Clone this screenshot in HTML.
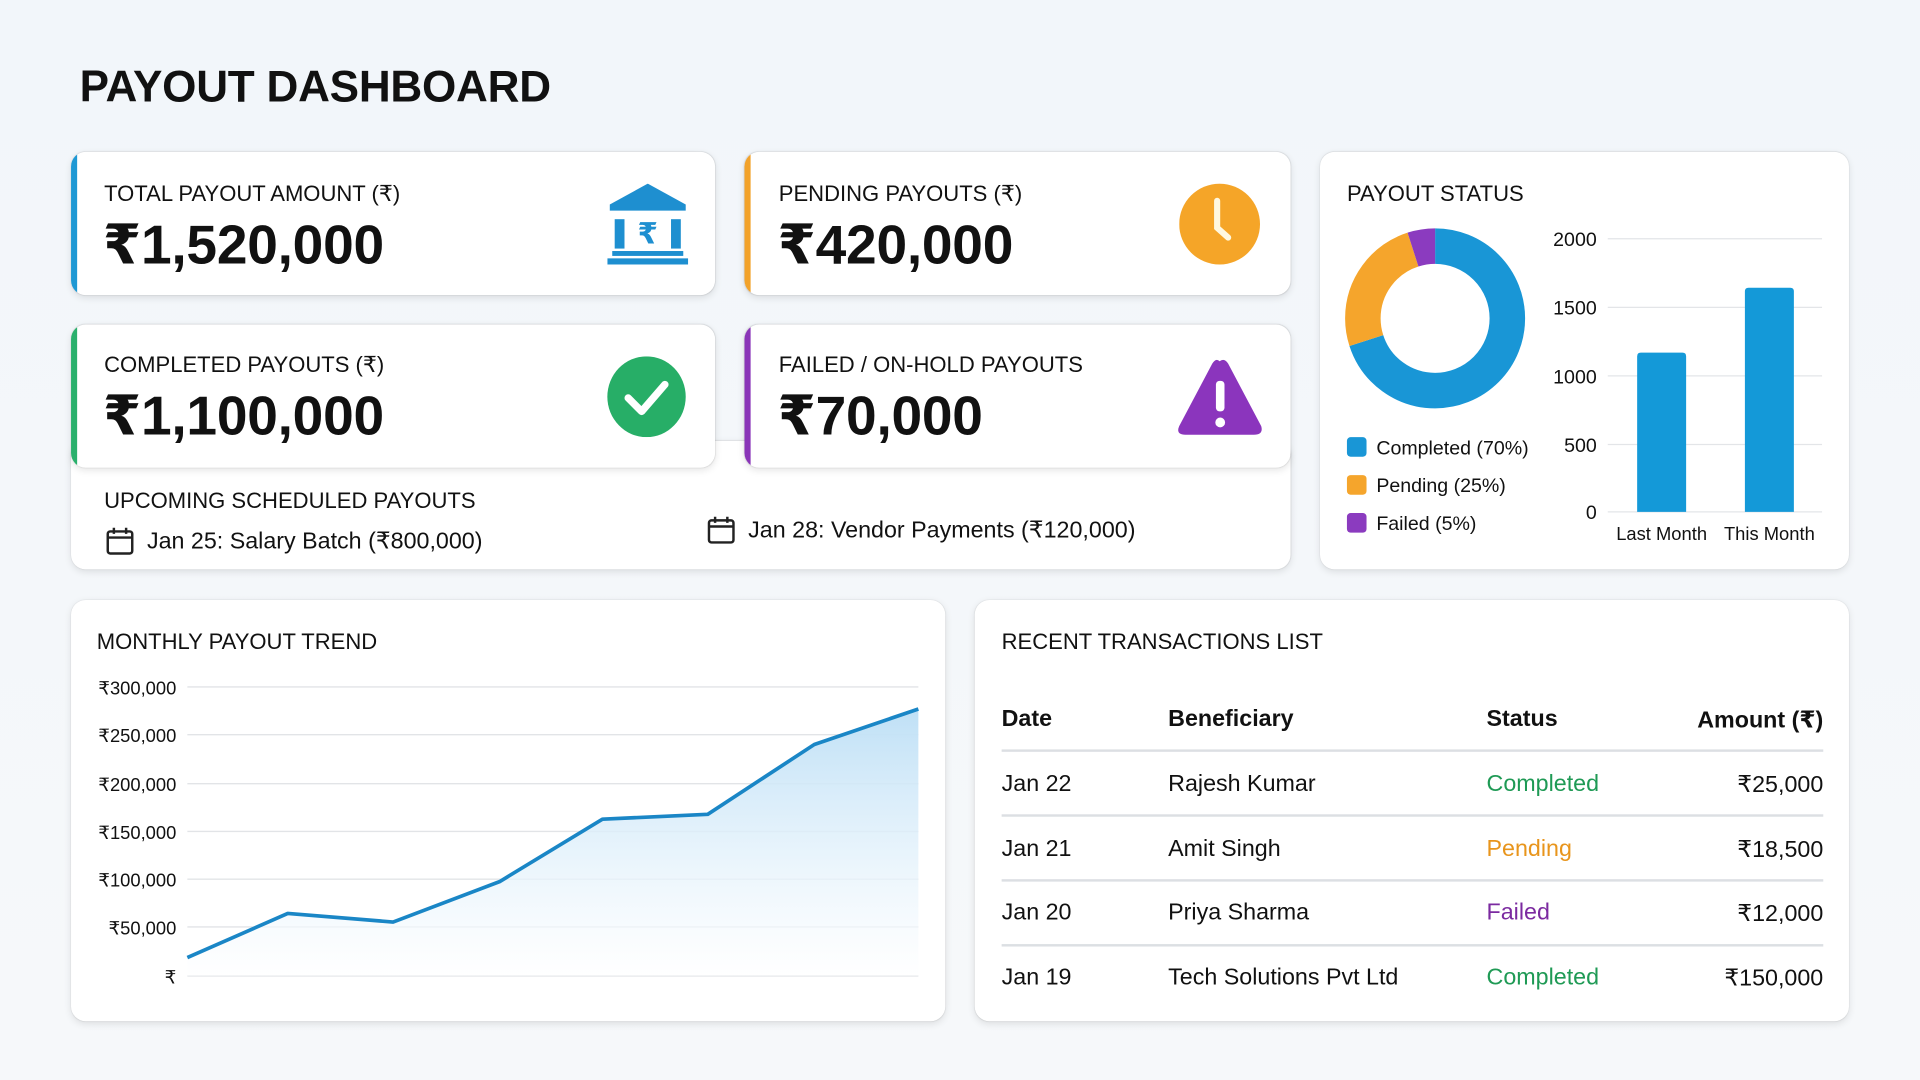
<!DOCTYPE html>
<html><head><meta charset="utf-8"><style>
html,body{margin:0;padding:0;width:1920px;height:1080px;overflow:hidden;background:#f3f6f9;}
#w{position:absolute;left:0;top:0;width:1568px;height:882px;transform:scale(1.22449);transform-origin:0 0;font-family:"Liberation Sans","DejaVu Sans",sans-serif;color:#111;background:linear-gradient(180deg,#f2f6fa,#f6f8fa);}
.card{position:absolute;background:#fff;border-radius:12px;box-shadow:0 2px 6px rgba(0,0,0,.10),0 0 1px rgba(0,0,0,.15);}
.kpi{overflow:hidden}
.kpi .bar{position:absolute;left:0;top:0;bottom:0;width:5px}
.lbl{position:absolute;font-size:18px;white-space:nowrap}
.val{position:absolute;font-size:45px;font-weight:bold;white-space:nowrap;letter-spacing:-0.2px}
.t{position:absolute;white-space:nowrap}
</style></head><body><div id="w">
<div class="t" style="left:65px;top:50px;font-size:36px;font-weight:bold;letter-spacing:-0.2px">PAYOUT DASHBOARD</div>

<div class="card" style="left:58px;top:360px;width:996px;height:105px">
 <div class="t" style="left:27px;top:39px;font-size:18px">UPCOMING SCHEDULED PAYOUTS</div>
 <svg style="position:absolute;left:28px;top:70px" width="24" height="24" viewBox="0 0 24 24"><rect x="2" y="4" width="20" height="18" rx="2" fill="none" stroke="#222" stroke-width="2"/><line x1="2" y1="9" x2="22" y2="9" stroke="#222" stroke-width="2"/><line x1="7" y1="1" x2="7" y2="6" stroke="#222" stroke-width="2"/><line x1="17" y1="1" x2="17" y2="6" stroke="#222" stroke-width="2"/></svg>
 <div class="t" style="left:62px;top:71px;font-size:19px">Jan 25: Salary Batch (₹800,000)</div>
 <svg style="position:absolute;left:519px;top:61px" width="24" height="24" viewBox="0 0 24 24"><rect x="2" y="4" width="20" height="18" rx="2" fill="none" stroke="#222" stroke-width="2"/><line x1="2" y1="9" x2="22" y2="9" stroke="#222" stroke-width="2"/><line x1="7" y1="1" x2="7" y2="6" stroke="#222" stroke-width="2"/><line x1="17" y1="1" x2="17" y2="6" stroke="#222" stroke-width="2"/></svg>
 <div class="t" style="left:553px;top:62px;font-size:19px">Jan 28: Vendor Payments (₹120,000)</div>
</div>

<div class="card kpi" style="left:58px;top:124px;width:526px;height:117px"><div class="bar" style="background:#1e98d4"></div>
 <div class="lbl" style="left:27px;top:24px">TOTAL PAYOUT AMOUNT (₹)</div>
 <div class="val" style="left:26px;top:49px">₹1,520,000</div>
 <svg style="position:absolute;left:438px;top:26px" width="66" height="66" viewBox="0 0 66 66"><polygon points="33,0 64,17 64,22 2,22 2,17" fill="#1e8fd0"/><rect x="6" y="29" width="8" height="24" fill="#1e8fd0"/><rect x="52" y="29" width="8" height="24" fill="#1e8fd0"/><text x="33" y="49" text-anchor="middle" font-size="24" font-weight="bold" fill="#1e8fd0" font-family="DejaVu Sans">₹</text><rect x="4" y="55" width="58" height="4" fill="#1e8fd0"/><rect x="0" y="61" width="66" height="5" fill="#1e8fd0"/></svg>
</div>
<div class="card kpi" style="left:608px;top:124px;width:446px;height:117px"><div class="bar" style="background:#f2a22a"></div>
 <div class="lbl" style="left:28px;top:24px">PENDING PAYOUTS (₹)</div>
 <div class="val" style="left:27px;top:49px">₹420,000</div>
 <svg style="position:absolute;left:355px;top:26px" width="66" height="66"><circle cx="33" cy="33" r="33" fill="#f5a528"/><polyline points="31,14 31,36 40,44" fill="none" stroke="#fff8e0" stroke-width="5" stroke-linecap="round"/></svg>
</div>
<div class="card kpi" style="left:58px;top:265px;width:526px;height:117px"><div class="bar" style="background:#2ab06c"></div>
 <div class="lbl" style="left:27px;top:23px">COMPLETED PAYOUTS (₹)</div>
 <div class="val" style="left:26px;top:48px">₹1,100,000</div>
 <svg style="position:absolute;left:437px;top:26px" width="66" height="66"><ellipse cx="33" cy="33" rx="32" ry="33" fill="#27ae67"/><polyline points="18,34 29,45 48,23" fill="none" stroke="#fff" stroke-width="6" stroke-linecap="round" stroke-linejoin="round"/></svg>
</div>
<div class="card kpi" style="left:608px;top:265px;width:446px;height:117px"><div class="bar" style="background:#8a35b8"></div>
 <div class="lbl" style="left:28px;top:23px">FAILED / ON-HOLD PAYOUTS</div>
 <div class="val" style="left:27px;top:48px">₹70,000</div>
 <svg style="position:absolute;left:352px;top:27px" width="72" height="65"><path d="M36 3 Q40 0 43 5 L70 56 Q72 63 64 63 L8 63 Q0 63 3 56 L30 5 Q33 0 36 3Z" fill="#8b35bd"/><rect x="33" y="19" width="7" height="25" rx="3" fill="#fff"/><circle cx="36.5" cy="53" r="4" fill="#fff"/></svg>
</div>

<div class="card" style="left:1078px;top:124px;width:432px;height:341px">
 <div class="t" style="left:22px;top:24px;font-size:18px">PAYOUT STATUS</div>
 <svg style="position:absolute;left:0;top:0" width="432" height="341">
  <g transform="rotate(-90 94 136)">
   <circle cx="94" cy="136" r="59" fill="none" stroke="#1996d6" stroke-width="29" stroke-dasharray="259.5 400"/>
   <circle cx="94" cy="136" r="59" fill="none" stroke="#f5a52c" stroke-width="29" stroke-dasharray="92.7 400" stroke-dashoffset="-259.5"/>
   <circle cx="94" cy="136" r="59" fill="none" stroke="#8b3bbf" stroke-width="29" stroke-dasharray="18.6 400" stroke-dashoffset="-352.2"/>
  </g>
  <rect x="22" y="233" width="16" height="16" rx="3" fill="#1996d6"/>
  <rect x="22" y="264" width="16" height="16" rx="3" fill="#f5a52c"/>
  <rect x="22" y="295" width="16" height="16" rx="3" fill="#8b3bbf"/>
  <g font-family="Liberation Sans, DejaVu Sans, sans-serif" font-size="16" fill="#111">
   <text x="46" y="247">Completed (70%)</text>
   <text x="46" y="278">Pending (25%)</text>
   <text x="46" y="309">Failed (5%)</text>
  </g>
  <g stroke="#e3e5e8" stroke-width="1">
   <line x1="235" y1="71" x2="410" y2="71"/><line x1="235" y1="127" x2="410" y2="127"/><line x1="235" y1="183" x2="410" y2="183"/><line x1="235" y1="239" x2="410" y2="239"/><line x1="235" y1="294" x2="410" y2="294"/>
  </g>
  <g font-family="Liberation Sans, DejaVu Sans, sans-serif" font-size="16" fill="#111" text-anchor="end">
   <text x="226" y="77">2000</text><text x="226" y="133">1500</text><text x="226" y="189">1000</text><text x="226" y="245">500</text><text x="226" y="300">0</text>
  </g>
  <path d="M259 294 V167 Q259 164 262 164 H296 Q299 164 299 167 V294Z" fill="#1499d8"/>
  <path d="M347 294 V114 Q347 111 350 111 H384 Q387 111 387 114 V294Z" fill="#1499d8"/>
  <g font-family="Liberation Sans, DejaVu Sans, sans-serif" font-size="15" fill="#111" text-anchor="middle">
   <text x="279" y="317">Last Month</text><text x="367" y="317">This Month</text>
  </g>
 </svg>
</div>

<div class="card" style="left:58px;top:490px;width:714px;height:344px">
 <div class="t" style="left:21px;top:24px;font-size:18px">MONTHLY PAYOUT TREND</div>
 <svg style="position:absolute;left:0;top:0" width="714" height="344">
  <defs><linearGradient id="g" x1="0" y1="0" x2="0" y2="1"><stop offset="0" stop-color="#bfe0f6"/><stop offset="1" stop-color="#ffffff" stop-opacity="0.6"/></linearGradient></defs>
  <g stroke="#e2e4e7" stroke-width="1.2">
   <line x1="95" y1="71" x2="692" y2="71"/><line x1="95" y1="110" x2="692" y2="110"/><line x1="95" y1="150" x2="692" y2="150"/><line x1="95" y1="189" x2="692" y2="189"/><line x1="95" y1="228" x2="692" y2="228"/><line x1="95" y1="267" x2="692" y2="267"/><line x1="95" y1="307" x2="692" y2="307"/>
  </g>
  <g font-family="Liberation Sans, DejaVu Sans, sans-serif" font-size="15" fill="#111" text-anchor="end">
   <text x="86" y="77">₹300,000</text><text x="86" y="116">₹250,000</text><text x="86" y="156">₹200,000</text><text x="86" y="195">₹150,000</text><text x="86" y="234">₹100,000</text><text x="86" y="273">₹50,000</text><text x="86" y="313">₹</text>
  </g>
  <polygon points="95,292 177,256 263,263 350,230 434,179 520,175 607,118 692,89 692,307 95,307" fill="url(#g)"/>
  <polyline points="95,292 177,256 263,263 350,230 434,179 520,175 607,118 692,89" fill="none" stroke="#1a86c6" stroke-width="3" stroke-linejoin="round"/>
 </svg>
</div>

<div class="card" style="left:796px;top:490px;width:714px;height:344px;font-size:19px">
 <div class="t" style="left:22px;top:24px;font-size:18px">RECENT TRANSACTIONS LIST</div>
 <div class="t" style="left:22px;top:87px;font-weight:bold">Date</div>
 <div class="t" style="left:158px;top:87px;font-weight:bold">Beneficiary</div>
 <div class="t" style="left:418px;top:87px;font-weight:bold">Status</div>
 <div class="t" style="right:21px;top:87px;font-weight:bold">Amount (₹)</div>
 <div style="position:absolute;left:22px;right:21px;top:122px;height:1.5px;background:#dcdfe3"></div>
 <div style="position:absolute;left:22px;right:21px;top:175px;height:1.5px;background:#dcdfe3"></div>
 <div style="position:absolute;left:22px;right:21px;top:228px;height:1.5px;background:#dcdfe3"></div>
 <div style="position:absolute;left:22px;right:21px;top:281px;height:1.5px;background:#dcdfe3"></div>
 <div class="t" style="left:22px;top:140px">Jan 22</div><div class="t" style="left:158px;top:140px">Rajesh Kumar</div><div class="t" style="left:418px;top:140px;color:#1f9a55">Completed</div><div class="t" style="right:21px;top:140px">₹25,000</div>
 <div class="t" style="left:22px;top:193px">Jan 21</div><div class="t" style="left:158px;top:193px">Amit Singh</div><div class="t" style="left:418px;top:193px;color:#e8951c">Pending</div><div class="t" style="right:21px;top:193px">₹18,500</div>
 <div class="t" style="left:22px;top:245px">Jan 20</div><div class="t" style="left:158px;top:245px">Priya Sharma</div><div class="t" style="left:418px;top:245px;color:#7b2aa0">Failed</div><div class="t" style="right:21px;top:245px">₹12,000</div>
 <div class="t" style="left:22px;top:298px">Jan 19</div><div class="t" style="left:158px;top:298px">Tech Solutions Pvt Ltd</div><div class="t" style="left:418px;top:298px;color:#1f9a55">Completed</div><div class="t" style="right:21px;top:298px">₹150,000</div>
</div>
</div></body></html>
